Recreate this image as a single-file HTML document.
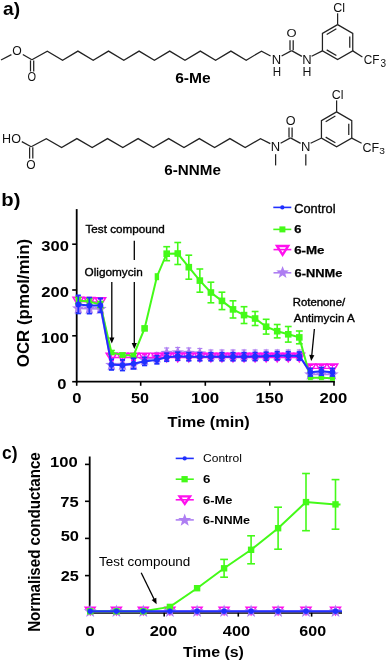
<!DOCTYPE html>
<html><head><meta charset="utf-8"><title>Figure</title>
<style>html,body{margin:0;padding:0;background:#fff;} body{width:387px;height:662px;overflow:hidden;} svg{display:block;}</style>
</head><body>
<svg width="387" height="662" viewBox="0 0 387 662" font-family="'Liberation Sans', Arial, Helvetica, sans-serif"><line x1="1.00" y1="60.00" x2="11.40" y2="54.60" stroke="#222" stroke-width="1.25"/>
<line x1="22.80" y1="54.50" x2="31.90" y2="59.80" stroke="#222" stroke-width="1.25"/>
<line x1="30.50" y1="60.40" x2="30.50" y2="71.50" stroke="#222" stroke-width="1.25"/>
<line x1="33.70" y1="60.40" x2="33.70" y2="71.50" stroke="#222" stroke-width="1.25"/>
<polyline points="31.90,59.80 47.30,51.10 62.60,60.20 77.90,51.10 93.20,60.20 108.50,51.10 123.80,60.20 139.10,51.10 154.40,60.20 169.70,51.10 185.00,60.20 200.30,51.10 215.60,60.20 230.90,51.10 246.20,60.20 261.50,51.10 270.60,56.00" fill="none" stroke="#222" stroke-width="1.25" stroke-linejoin="miter"/>
<line x1="281.60" y1="56.00" x2="291.60" y2="50.60" stroke="#222" stroke-width="1.25"/>
<line x1="290.00" y1="40.30" x2="290.00" y2="50.30" stroke="#222" stroke-width="1.25"/>
<line x1="293.20" y1="40.30" x2="293.20" y2="50.30" stroke="#222" stroke-width="1.25"/>
<line x1="291.60" y1="50.60" x2="301.90" y2="56.40" stroke="#222" stroke-width="1.25"/>
<line x1="311.60" y1="56.20" x2="322.40" y2="50.90" stroke="#222" stroke-width="1.25"/>
<polyline points="337.60,24.65 322.44,33.40 322.44,50.90 337.60,59.65 352.76,50.90 352.76,33.40 337.60,24.65" fill="none" stroke="#222" stroke-width="1.25" stroke-linejoin="miter"/>
<line x1="336.37" y1="28.82" x2="326.67" y2="34.42" stroke="#222" stroke-width="1.25"/>
<line x1="349.76" y1="47.75" x2="349.76" y2="36.55" stroke="#222" stroke-width="1.25"/>
<line x1="326.67" y1="49.88" x2="336.37" y2="55.48" stroke="#222" stroke-width="1.25"/>
<line x1="337.60" y1="24.65" x2="337.60" y2="13.30" stroke="#222" stroke-width="1.25"/>
<line x1="352.76" y1="50.90" x2="362.40" y2="57.00" stroke="#222" stroke-width="1.25"/>
<line x1="21.80" y1="141.60" x2="31.20" y2="146.80" stroke="#222" stroke-width="1.25"/>
<line x1="29.60" y1="147.30" x2="29.60" y2="158.60" stroke="#222" stroke-width="1.25"/>
<line x1="32.80" y1="147.30" x2="32.80" y2="158.60" stroke="#222" stroke-width="1.25"/>
<polyline points="31.20,146.80 46.30,138.60 61.60,147.60 76.90,138.60 92.20,147.60 107.50,138.60 122.80,147.60 138.10,138.60 153.40,147.60 168.70,138.60 184.00,147.60 199.30,138.60 214.60,147.60 229.90,138.60 245.20,147.60 260.50,138.60 270.30,143.60" fill="none" stroke="#222" stroke-width="1.25" stroke-linejoin="miter"/>
<line x1="275.60" y1="154.20" x2="275.60" y2="165.40" stroke="#222" stroke-width="1.25"/>
<line x1="280.60" y1="143.20" x2="290.50" y2="137.90" stroke="#222" stroke-width="1.25"/>
<line x1="289.00" y1="127.40" x2="289.00" y2="137.60" stroke="#222" stroke-width="1.25"/>
<line x1="292.10" y1="127.40" x2="292.10" y2="137.60" stroke="#222" stroke-width="1.25"/>
<line x1="290.50" y1="137.90" x2="300.60" y2="143.40" stroke="#222" stroke-width="1.25"/>
<line x1="305.80" y1="154.20" x2="305.80" y2="165.40" stroke="#222" stroke-width="1.25"/>
<line x1="310.60" y1="143.20" x2="321.10" y2="138.30" stroke="#222" stroke-width="1.25"/>
<polyline points="336.60,111.90 321.44,120.65 321.44,138.15 336.60,146.90 351.76,138.15 351.76,120.65 336.60,111.90" fill="none" stroke="#222" stroke-width="1.25" stroke-linejoin="miter"/>
<line x1="335.37" y1="116.07" x2="325.67" y2="121.67" stroke="#222" stroke-width="1.25"/>
<line x1="348.76" y1="135.00" x2="348.76" y2="123.80" stroke="#222" stroke-width="1.25"/>
<line x1="325.67" y1="137.13" x2="335.37" y2="142.73" stroke="#222" stroke-width="1.25"/>
<line x1="336.60" y1="111.90" x2="336.60" y2="100.40" stroke="#222" stroke-width="1.25"/>
<line x1="351.76" y1="138.15" x2="361.60" y2="143.30" stroke="#222" stroke-width="1.25"/>
<text x="3.03" y="14.67" font-size="18.72" font-weight="bold" fill="#000" textLength="17.02" lengthAdjust="spacingAndGlyphs">a)</text>
<text x="12.19" y="55.37" font-size="12.54" font-weight="normal" fill="#111" textLength="9.5" lengthAdjust="spacingAndGlyphs">O</text>
<text x="27.55" y="81.38" font-size="11.97" font-weight="normal" fill="#111" textLength="8.58" lengthAdjust="spacingAndGlyphs">O</text>
<text x="271.86" y="64.0" font-size="12.03" font-weight="normal" fill="#111" textLength="9.41" lengthAdjust="spacingAndGlyphs">N</text>
<text x="272.67" y="76.2" font-size="12.46" font-weight="normal" fill="#111" textLength="8.38" lengthAdjust="spacingAndGlyphs">H</text>
<text x="302.16" y="64.0" font-size="12.03" font-weight="normal" fill="#111" textLength="9.41" lengthAdjust="spacingAndGlyphs">N</text>
<text x="302.51" y="76.2" font-size="12.46" font-weight="normal" fill="#111" textLength="8.9" lengthAdjust="spacingAndGlyphs">H</text>
<text x="286.55" y="37.29" font-size="11.27" font-weight="normal" fill="#111" textLength="10.07" lengthAdjust="spacingAndGlyphs">O</text>
<text x="333.27" y="11.67" font-size="12.57" font-weight="normal" fill="#111" textLength="11.83" lengthAdjust="spacingAndGlyphs">Cl</text>
<text x="363.71" y="63.77" font-size="12.54" font-weight="normal" fill="#111" textLength="15.8" lengthAdjust="spacingAndGlyphs">CF</text>
<text x="380.5" y="67.1" font-size="10.14" font-weight="normal" fill="#111" textLength="5.56" lengthAdjust="spacingAndGlyphs">3</text>
<text x="175.18" y="82.85" font-size="14.65" font-weight="bold" fill="#000" textLength="35.52" lengthAdjust="spacingAndGlyphs">6-Me</text>
<text x="2.1" y="142.58" font-size="12.39" font-weight="normal" fill="#111" textLength="18.83" lengthAdjust="spacingAndGlyphs">HO</text>
<text x="26.3" y="169.07" font-size="12.68" font-weight="normal" fill="#111" textLength="9.38" lengthAdjust="spacingAndGlyphs">O</text>
<text x="270.76" y="151.4" font-size="11.88" font-weight="normal" fill="#111" textLength="9.41" lengthAdjust="spacingAndGlyphs">N</text>
<text x="301.06" y="151.4" font-size="11.88" font-weight="normal" fill="#111" textLength="9.41" lengthAdjust="spacingAndGlyphs">N</text>
<text x="285.67" y="125.27" font-size="12.54" font-weight="normal" fill="#111" textLength="9.84" lengthAdjust="spacingAndGlyphs">O</text>
<text x="331.88" y="98.58" font-size="12.03" font-weight="normal" fill="#111" textLength="11.72" lengthAdjust="spacingAndGlyphs">Cl</text>
<text x="362.38" y="151.87" font-size="13.38" font-weight="normal" fill="#111" textLength="16.66" lengthAdjust="spacingAndGlyphs">CF</text>
<text x="379.39" y="154.41" font-size="8.87" font-weight="normal" fill="#111" textLength="5.68" lengthAdjust="spacingAndGlyphs">3</text>
<text x="164.29" y="175.16" font-size="14.08" font-weight="bold" fill="#000" textLength="56.6" lengthAdjust="spacingAndGlyphs">6-NNMe</text>
<line x1="76.70" y1="209.10" x2="76.70" y2="382.50" stroke="#000" stroke-width="1.8"/>
<line x1="75.80" y1="381.70" x2="334.90" y2="381.70" stroke="#000" stroke-width="1.8"/>
<line x1="72.20" y1="244.20" x2="76.70" y2="244.20" stroke="#000" stroke-width="1.6"/>
<line x1="72.20" y1="290.00" x2="76.70" y2="290.00" stroke="#000" stroke-width="1.6"/>
<line x1="72.20" y1="335.80" x2="76.70" y2="335.80" stroke="#000" stroke-width="1.6"/>
<line x1="72.20" y1="381.70" x2="76.70" y2="381.70" stroke="#000" stroke-width="1.6"/>
<line x1="76.70" y1="381.70" x2="76.70" y2="385.80" stroke="#000" stroke-width="1.6"/>
<line x1="140.70" y1="381.70" x2="140.70" y2="385.80" stroke="#000" stroke-width="1.6"/>
<line x1="205.30" y1="381.70" x2="205.30" y2="385.80" stroke="#000" stroke-width="1.6"/>
<line x1="269.80" y1="381.70" x2="269.80" y2="385.80" stroke="#000" stroke-width="1.6"/>
<line x1="334.00" y1="381.70" x2="334.00" y2="385.80" stroke="#000" stroke-width="1.6"/>
<polyline points="78.30,308.50 89.35,308.70 100.40,309.00 111.45,365.00 122.50,365.00 133.55,365.00 144.60,360.00 156.90,357.50 166.70,353.00 177.75,352.50 188.80,353.00 199.85,353.50 210.90,355.00 221.95,355.00 233.00,355.00 244.05,355.00 255.10,355.00 266.15,355.00 277.20,355.00 288.25,355.00 299.30,355.00 310.35,374.50 321.40,374.50 332.45,374.50" fill="none" stroke="#ae7ef2" stroke-width="1.4"/>
<line x1="78.30" y1="305.50" x2="78.30" y2="311.50" stroke="#ae7ef2" stroke-width="1.2"/>
<line x1="75.80" y1="305.50" x2="80.80" y2="305.50" stroke="#ae7ef2" stroke-width="1.2"/>
<line x1="75.80" y1="311.50" x2="80.80" y2="311.50" stroke="#ae7ef2" stroke-width="1.2"/>
<polygon points="78.30,301.90 79.93,306.26 84.58,306.46 80.94,309.36 82.18,313.84 78.30,311.27 74.42,313.84 75.66,309.36 72.02,306.46 76.67,306.26" fill="#ae7ef2"/>
<line x1="89.35" y1="305.70" x2="89.35" y2="311.70" stroke="#ae7ef2" stroke-width="1.2"/>
<line x1="86.85" y1="305.70" x2="91.85" y2="305.70" stroke="#ae7ef2" stroke-width="1.2"/>
<line x1="86.85" y1="311.70" x2="91.85" y2="311.70" stroke="#ae7ef2" stroke-width="1.2"/>
<polygon points="89.35,302.10 90.98,306.46 95.63,306.66 91.99,309.56 93.23,314.04 89.35,311.47 85.47,314.04 86.71,309.56 83.07,306.66 87.72,306.46" fill="#ae7ef2"/>
<line x1="100.40" y1="306.00" x2="100.40" y2="312.00" stroke="#ae7ef2" stroke-width="1.2"/>
<line x1="97.90" y1="306.00" x2="102.90" y2="306.00" stroke="#ae7ef2" stroke-width="1.2"/>
<line x1="97.90" y1="312.00" x2="102.90" y2="312.00" stroke="#ae7ef2" stroke-width="1.2"/>
<polygon points="100.40,302.40 102.03,306.76 106.68,306.96 103.04,309.86 104.28,314.34 100.40,311.77 96.52,314.34 97.76,309.86 94.12,306.96 98.77,306.76" fill="#ae7ef2"/>
<line x1="111.45" y1="362.00" x2="111.45" y2="368.00" stroke="#ae7ef2" stroke-width="1.2"/>
<line x1="108.95" y1="362.00" x2="113.95" y2="362.00" stroke="#ae7ef2" stroke-width="1.2"/>
<line x1="108.95" y1="368.00" x2="113.95" y2="368.00" stroke="#ae7ef2" stroke-width="1.2"/>
<polygon points="111.45,358.40 113.08,362.76 117.73,362.96 114.09,365.86 115.33,370.34 111.45,367.77 107.57,370.34 108.81,365.86 105.17,362.96 109.82,362.76" fill="#ae7ef2"/>
<line x1="122.50" y1="362.00" x2="122.50" y2="368.00" stroke="#ae7ef2" stroke-width="1.2"/>
<line x1="120.00" y1="362.00" x2="125.00" y2="362.00" stroke="#ae7ef2" stroke-width="1.2"/>
<line x1="120.00" y1="368.00" x2="125.00" y2="368.00" stroke="#ae7ef2" stroke-width="1.2"/>
<polygon points="122.50,358.40 124.13,362.76 128.78,362.96 125.14,365.86 126.38,370.34 122.50,367.77 118.62,370.34 119.86,365.86 116.22,362.96 120.87,362.76" fill="#ae7ef2"/>
<line x1="133.55" y1="362.00" x2="133.55" y2="368.00" stroke="#ae7ef2" stroke-width="1.2"/>
<line x1="131.05" y1="362.00" x2="136.05" y2="362.00" stroke="#ae7ef2" stroke-width="1.2"/>
<line x1="131.05" y1="368.00" x2="136.05" y2="368.00" stroke="#ae7ef2" stroke-width="1.2"/>
<polygon points="133.55,358.40 135.18,362.76 139.83,362.96 136.19,365.86 137.43,370.34 133.55,367.77 129.67,370.34 130.91,365.86 127.27,362.96 131.92,362.76" fill="#ae7ef2"/>
<line x1="144.60" y1="355.00" x2="144.60" y2="365.00" stroke="#ae7ef2" stroke-width="1.2"/>
<line x1="142.10" y1="355.00" x2="147.10" y2="355.00" stroke="#ae7ef2" stroke-width="1.2"/>
<line x1="142.10" y1="365.00" x2="147.10" y2="365.00" stroke="#ae7ef2" stroke-width="1.2"/>
<polygon points="144.60,353.40 146.23,357.76 150.88,357.96 147.24,360.86 148.48,365.34 144.60,362.77 140.72,365.34 141.96,360.86 138.32,357.96 142.97,357.76" fill="#ae7ef2"/>
<line x1="156.90" y1="352.50" x2="156.90" y2="362.50" stroke="#ae7ef2" stroke-width="1.2"/>
<line x1="154.40" y1="352.50" x2="159.40" y2="352.50" stroke="#ae7ef2" stroke-width="1.2"/>
<line x1="154.40" y1="362.50" x2="159.40" y2="362.50" stroke="#ae7ef2" stroke-width="1.2"/>
<polygon points="156.90,350.90 158.53,355.26 163.18,355.46 159.54,358.36 160.78,362.84 156.90,360.27 153.02,362.84 154.26,358.36 150.62,355.46 155.27,355.26" fill="#ae7ef2"/>
<line x1="166.70" y1="348.00" x2="166.70" y2="358.00" stroke="#ae7ef2" stroke-width="1.2"/>
<line x1="164.20" y1="348.00" x2="169.20" y2="348.00" stroke="#ae7ef2" stroke-width="1.2"/>
<line x1="164.20" y1="358.00" x2="169.20" y2="358.00" stroke="#ae7ef2" stroke-width="1.2"/>
<polygon points="166.70,346.40 168.33,350.76 172.98,350.96 169.34,353.86 170.58,358.34 166.70,355.77 162.82,358.34 164.06,353.86 160.42,350.96 165.07,350.76" fill="#ae7ef2"/>
<line x1="177.75" y1="347.50" x2="177.75" y2="357.50" stroke="#ae7ef2" stroke-width="1.2"/>
<line x1="175.25" y1="347.50" x2="180.25" y2="347.50" stroke="#ae7ef2" stroke-width="1.2"/>
<line x1="175.25" y1="357.50" x2="180.25" y2="357.50" stroke="#ae7ef2" stroke-width="1.2"/>
<polygon points="177.75,345.90 179.38,350.26 184.03,350.46 180.39,353.36 181.63,357.84 177.75,355.27 173.87,357.84 175.11,353.36 171.47,350.46 176.12,350.26" fill="#ae7ef2"/>
<line x1="188.80" y1="348.00" x2="188.80" y2="358.00" stroke="#ae7ef2" stroke-width="1.2"/>
<line x1="186.30" y1="348.00" x2="191.30" y2="348.00" stroke="#ae7ef2" stroke-width="1.2"/>
<line x1="186.30" y1="358.00" x2="191.30" y2="358.00" stroke="#ae7ef2" stroke-width="1.2"/>
<polygon points="188.80,346.40 190.43,350.76 195.08,350.96 191.44,353.86 192.68,358.34 188.80,355.77 184.92,358.34 186.16,353.86 182.52,350.96 187.17,350.76" fill="#ae7ef2"/>
<line x1="199.85" y1="348.50" x2="199.85" y2="358.50" stroke="#ae7ef2" stroke-width="1.2"/>
<line x1="197.35" y1="348.50" x2="202.35" y2="348.50" stroke="#ae7ef2" stroke-width="1.2"/>
<line x1="197.35" y1="358.50" x2="202.35" y2="358.50" stroke="#ae7ef2" stroke-width="1.2"/>
<polygon points="199.85,346.90 201.48,351.26 206.13,351.46 202.49,354.36 203.73,358.84 199.85,356.27 195.97,358.84 197.21,354.36 193.57,351.46 198.22,351.26" fill="#ae7ef2"/>
<line x1="210.90" y1="350.00" x2="210.90" y2="360.00" stroke="#ae7ef2" stroke-width="1.2"/>
<line x1="208.40" y1="350.00" x2="213.40" y2="350.00" stroke="#ae7ef2" stroke-width="1.2"/>
<line x1="208.40" y1="360.00" x2="213.40" y2="360.00" stroke="#ae7ef2" stroke-width="1.2"/>
<polygon points="210.90,348.40 212.53,352.76 217.18,352.96 213.54,355.86 214.78,360.34 210.90,357.77 207.02,360.34 208.26,355.86 204.62,352.96 209.27,352.76" fill="#ae7ef2"/>
<line x1="221.95" y1="350.00" x2="221.95" y2="360.00" stroke="#ae7ef2" stroke-width="1.2"/>
<line x1="219.45" y1="350.00" x2="224.45" y2="350.00" stroke="#ae7ef2" stroke-width="1.2"/>
<line x1="219.45" y1="360.00" x2="224.45" y2="360.00" stroke="#ae7ef2" stroke-width="1.2"/>
<polygon points="221.95,348.40 223.58,352.76 228.23,352.96 224.59,355.86 225.83,360.34 221.95,357.77 218.07,360.34 219.31,355.86 215.67,352.96 220.32,352.76" fill="#ae7ef2"/>
<line x1="233.00" y1="350.00" x2="233.00" y2="360.00" stroke="#ae7ef2" stroke-width="1.2"/>
<line x1="230.50" y1="350.00" x2="235.50" y2="350.00" stroke="#ae7ef2" stroke-width="1.2"/>
<line x1="230.50" y1="360.00" x2="235.50" y2="360.00" stroke="#ae7ef2" stroke-width="1.2"/>
<polygon points="233.00,348.40 234.63,352.76 239.28,352.96 235.64,355.86 236.88,360.34 233.00,357.77 229.12,360.34 230.36,355.86 226.72,352.96 231.37,352.76" fill="#ae7ef2"/>
<line x1="244.05" y1="350.00" x2="244.05" y2="360.00" stroke="#ae7ef2" stroke-width="1.2"/>
<line x1="241.55" y1="350.00" x2="246.55" y2="350.00" stroke="#ae7ef2" stroke-width="1.2"/>
<line x1="241.55" y1="360.00" x2="246.55" y2="360.00" stroke="#ae7ef2" stroke-width="1.2"/>
<polygon points="244.05,348.40 245.68,352.76 250.33,352.96 246.69,355.86 247.93,360.34 244.05,357.77 240.17,360.34 241.41,355.86 237.77,352.96 242.42,352.76" fill="#ae7ef2"/>
<line x1="255.10" y1="350.00" x2="255.10" y2="360.00" stroke="#ae7ef2" stroke-width="1.2"/>
<line x1="252.60" y1="350.00" x2="257.60" y2="350.00" stroke="#ae7ef2" stroke-width="1.2"/>
<line x1="252.60" y1="360.00" x2="257.60" y2="360.00" stroke="#ae7ef2" stroke-width="1.2"/>
<polygon points="255.10,348.40 256.73,352.76 261.38,352.96 257.74,355.86 258.98,360.34 255.10,357.77 251.22,360.34 252.46,355.86 248.82,352.96 253.47,352.76" fill="#ae7ef2"/>
<line x1="266.15" y1="350.00" x2="266.15" y2="360.00" stroke="#ae7ef2" stroke-width="1.2"/>
<line x1="263.65" y1="350.00" x2="268.65" y2="350.00" stroke="#ae7ef2" stroke-width="1.2"/>
<line x1="263.65" y1="360.00" x2="268.65" y2="360.00" stroke="#ae7ef2" stroke-width="1.2"/>
<polygon points="266.15,348.40 267.78,352.76 272.43,352.96 268.79,355.86 270.03,360.34 266.15,357.77 262.27,360.34 263.51,355.86 259.87,352.96 264.52,352.76" fill="#ae7ef2"/>
<line x1="277.20" y1="350.00" x2="277.20" y2="360.00" stroke="#ae7ef2" stroke-width="1.2"/>
<line x1="274.70" y1="350.00" x2="279.70" y2="350.00" stroke="#ae7ef2" stroke-width="1.2"/>
<line x1="274.70" y1="360.00" x2="279.70" y2="360.00" stroke="#ae7ef2" stroke-width="1.2"/>
<polygon points="277.20,348.40 278.83,352.76 283.48,352.96 279.84,355.86 281.08,360.34 277.20,357.77 273.32,360.34 274.56,355.86 270.92,352.96 275.57,352.76" fill="#ae7ef2"/>
<line x1="288.25" y1="350.00" x2="288.25" y2="360.00" stroke="#ae7ef2" stroke-width="1.2"/>
<line x1="285.75" y1="350.00" x2="290.75" y2="350.00" stroke="#ae7ef2" stroke-width="1.2"/>
<line x1="285.75" y1="360.00" x2="290.75" y2="360.00" stroke="#ae7ef2" stroke-width="1.2"/>
<polygon points="288.25,348.40 289.88,352.76 294.53,352.96 290.89,355.86 292.13,360.34 288.25,357.77 284.37,360.34 285.61,355.86 281.97,352.96 286.62,352.76" fill="#ae7ef2"/>
<line x1="299.30" y1="350.00" x2="299.30" y2="360.00" stroke="#ae7ef2" stroke-width="1.2"/>
<line x1="296.80" y1="350.00" x2="301.80" y2="350.00" stroke="#ae7ef2" stroke-width="1.2"/>
<line x1="296.80" y1="360.00" x2="301.80" y2="360.00" stroke="#ae7ef2" stroke-width="1.2"/>
<polygon points="299.30,348.40 300.93,352.76 305.58,352.96 301.94,355.86 303.18,360.34 299.30,357.77 295.42,360.34 296.66,355.86 293.02,352.96 297.67,352.76" fill="#ae7ef2"/>
<line x1="310.35" y1="372.50" x2="310.35" y2="376.50" stroke="#ae7ef2" stroke-width="1.2"/>
<line x1="307.85" y1="372.50" x2="312.85" y2="372.50" stroke="#ae7ef2" stroke-width="1.2"/>
<line x1="307.85" y1="376.50" x2="312.85" y2="376.50" stroke="#ae7ef2" stroke-width="1.2"/>
<polygon points="310.35,367.90 311.98,372.26 316.63,372.46 312.99,375.36 314.23,379.84 310.35,377.27 306.47,379.84 307.71,375.36 304.07,372.46 308.72,372.26" fill="#ae7ef2"/>
<line x1="321.40" y1="372.50" x2="321.40" y2="376.50" stroke="#ae7ef2" stroke-width="1.2"/>
<line x1="318.90" y1="372.50" x2="323.90" y2="372.50" stroke="#ae7ef2" stroke-width="1.2"/>
<line x1="318.90" y1="376.50" x2="323.90" y2="376.50" stroke="#ae7ef2" stroke-width="1.2"/>
<polygon points="321.40,367.90 323.03,372.26 327.68,372.46 324.04,375.36 325.28,379.84 321.40,377.27 317.52,379.84 318.76,375.36 315.12,372.46 319.77,372.26" fill="#ae7ef2"/>
<line x1="332.45" y1="372.50" x2="332.45" y2="376.50" stroke="#ae7ef2" stroke-width="1.2"/>
<line x1="329.95" y1="372.50" x2="334.95" y2="372.50" stroke="#ae7ef2" stroke-width="1.2"/>
<line x1="329.95" y1="376.50" x2="334.95" y2="376.50" stroke="#ae7ef2" stroke-width="1.2"/>
<polygon points="332.45,367.90 334.08,372.26 338.73,372.46 335.09,375.36 336.33,379.84 332.45,377.27 328.57,379.84 329.81,375.36 326.17,372.46 330.82,372.26" fill="#ae7ef2"/>
<polyline points="78.30,301.60 89.35,301.80 100.40,302.20 111.45,357.50 122.50,357.50 133.55,357.50 144.60,357.50 156.90,357.50 166.70,357.50 177.75,357.50 188.80,357.50 199.85,357.50 210.90,357.50 221.95,357.50 233.00,357.50 244.05,357.50 255.10,357.50 266.15,357.50 277.20,357.50 288.25,357.50 299.30,357.50 310.35,368.40 321.40,368.40 332.45,368.40" fill="none" stroke="#ff10ee" stroke-width="1.4"/>
<line x1="78.30" y1="298.60" x2="78.30" y2="304.60" stroke="#ff10ee" stroke-width="1.2"/>
<line x1="75.80" y1="298.60" x2="80.80" y2="298.60" stroke="#ff10ee" stroke-width="1.2"/>
<line x1="75.80" y1="304.60" x2="80.80" y2="304.60" stroke="#ff10ee" stroke-width="1.2"/>
<polygon points="73.10,297.30 83.50,297.30 78.30,305.90" fill="none" stroke="#ff10ee" stroke-width="1.6" stroke-linejoin="miter"/>
<line x1="89.35" y1="298.80" x2="89.35" y2="304.80" stroke="#ff10ee" stroke-width="1.2"/>
<line x1="86.85" y1="298.80" x2="91.85" y2="298.80" stroke="#ff10ee" stroke-width="1.2"/>
<line x1="86.85" y1="304.80" x2="91.85" y2="304.80" stroke="#ff10ee" stroke-width="1.2"/>
<polygon points="84.15,297.50 94.55,297.50 89.35,306.10" fill="none" stroke="#ff10ee" stroke-width="1.6" stroke-linejoin="miter"/>
<line x1="100.40" y1="299.20" x2="100.40" y2="305.20" stroke="#ff10ee" stroke-width="1.2"/>
<line x1="97.90" y1="299.20" x2="102.90" y2="299.20" stroke="#ff10ee" stroke-width="1.2"/>
<line x1="97.90" y1="305.20" x2="102.90" y2="305.20" stroke="#ff10ee" stroke-width="1.2"/>
<polygon points="95.20,297.90 105.60,297.90 100.40,306.50" fill="none" stroke="#ff10ee" stroke-width="1.6" stroke-linejoin="miter"/>
<line x1="111.45" y1="354.50" x2="111.45" y2="360.50" stroke="#ff10ee" stroke-width="1.2"/>
<line x1="108.95" y1="354.50" x2="113.95" y2="354.50" stroke="#ff10ee" stroke-width="1.2"/>
<line x1="108.95" y1="360.50" x2="113.95" y2="360.50" stroke="#ff10ee" stroke-width="1.2"/>
<polygon points="106.25,353.20 116.65,353.20 111.45,361.80" fill="none" stroke="#ff10ee" stroke-width="1.6" stroke-linejoin="miter"/>
<line x1="122.50" y1="354.50" x2="122.50" y2="360.50" stroke="#ff10ee" stroke-width="1.2"/>
<line x1="120.00" y1="354.50" x2="125.00" y2="354.50" stroke="#ff10ee" stroke-width="1.2"/>
<line x1="120.00" y1="360.50" x2="125.00" y2="360.50" stroke="#ff10ee" stroke-width="1.2"/>
<polygon points="117.30,353.20 127.70,353.20 122.50,361.80" fill="none" stroke="#ff10ee" stroke-width="1.6" stroke-linejoin="miter"/>
<line x1="133.55" y1="354.50" x2="133.55" y2="360.50" stroke="#ff10ee" stroke-width="1.2"/>
<line x1="131.05" y1="354.50" x2="136.05" y2="354.50" stroke="#ff10ee" stroke-width="1.2"/>
<line x1="131.05" y1="360.50" x2="136.05" y2="360.50" stroke="#ff10ee" stroke-width="1.2"/>
<polygon points="128.35,353.20 138.75,353.20 133.55,361.80" fill="none" stroke="#ff10ee" stroke-width="1.6" stroke-linejoin="miter"/>
<line x1="144.60" y1="354.50" x2="144.60" y2="360.50" stroke="#ff10ee" stroke-width="1.2"/>
<line x1="142.10" y1="354.50" x2="147.10" y2="354.50" stroke="#ff10ee" stroke-width="1.2"/>
<line x1="142.10" y1="360.50" x2="147.10" y2="360.50" stroke="#ff10ee" stroke-width="1.2"/>
<polygon points="139.40,353.20 149.80,353.20 144.60,361.80" fill="none" stroke="#ff10ee" stroke-width="1.6" stroke-linejoin="miter"/>
<line x1="156.90" y1="354.50" x2="156.90" y2="360.50" stroke="#ff10ee" stroke-width="1.2"/>
<line x1="154.40" y1="354.50" x2="159.40" y2="354.50" stroke="#ff10ee" stroke-width="1.2"/>
<line x1="154.40" y1="360.50" x2="159.40" y2="360.50" stroke="#ff10ee" stroke-width="1.2"/>
<polygon points="151.70,353.20 162.10,353.20 156.90,361.80" fill="none" stroke="#ff10ee" stroke-width="1.6" stroke-linejoin="miter"/>
<line x1="166.70" y1="354.50" x2="166.70" y2="360.50" stroke="#ff10ee" stroke-width="1.2"/>
<line x1="164.20" y1="354.50" x2="169.20" y2="354.50" stroke="#ff10ee" stroke-width="1.2"/>
<line x1="164.20" y1="360.50" x2="169.20" y2="360.50" stroke="#ff10ee" stroke-width="1.2"/>
<polygon points="161.50,353.20 171.90,353.20 166.70,361.80" fill="none" stroke="#ff10ee" stroke-width="1.6" stroke-linejoin="miter"/>
<line x1="177.75" y1="354.50" x2="177.75" y2="360.50" stroke="#ff10ee" stroke-width="1.2"/>
<line x1="175.25" y1="354.50" x2="180.25" y2="354.50" stroke="#ff10ee" stroke-width="1.2"/>
<line x1="175.25" y1="360.50" x2="180.25" y2="360.50" stroke="#ff10ee" stroke-width="1.2"/>
<polygon points="172.55,353.20 182.95,353.20 177.75,361.80" fill="none" stroke="#ff10ee" stroke-width="1.6" stroke-linejoin="miter"/>
<line x1="188.80" y1="354.50" x2="188.80" y2="360.50" stroke="#ff10ee" stroke-width="1.2"/>
<line x1="186.30" y1="354.50" x2="191.30" y2="354.50" stroke="#ff10ee" stroke-width="1.2"/>
<line x1="186.30" y1="360.50" x2="191.30" y2="360.50" stroke="#ff10ee" stroke-width="1.2"/>
<polygon points="183.60,353.20 194.00,353.20 188.80,361.80" fill="none" stroke="#ff10ee" stroke-width="1.6" stroke-linejoin="miter"/>
<line x1="199.85" y1="354.50" x2="199.85" y2="360.50" stroke="#ff10ee" stroke-width="1.2"/>
<line x1="197.35" y1="354.50" x2="202.35" y2="354.50" stroke="#ff10ee" stroke-width="1.2"/>
<line x1="197.35" y1="360.50" x2="202.35" y2="360.50" stroke="#ff10ee" stroke-width="1.2"/>
<polygon points="194.65,353.20 205.05,353.20 199.85,361.80" fill="none" stroke="#ff10ee" stroke-width="1.6" stroke-linejoin="miter"/>
<line x1="210.90" y1="354.50" x2="210.90" y2="360.50" stroke="#ff10ee" stroke-width="1.2"/>
<line x1="208.40" y1="354.50" x2="213.40" y2="354.50" stroke="#ff10ee" stroke-width="1.2"/>
<line x1="208.40" y1="360.50" x2="213.40" y2="360.50" stroke="#ff10ee" stroke-width="1.2"/>
<polygon points="205.70,353.20 216.10,353.20 210.90,361.80" fill="none" stroke="#ff10ee" stroke-width="1.6" stroke-linejoin="miter"/>
<line x1="221.95" y1="354.50" x2="221.95" y2="360.50" stroke="#ff10ee" stroke-width="1.2"/>
<line x1="219.45" y1="354.50" x2="224.45" y2="354.50" stroke="#ff10ee" stroke-width="1.2"/>
<line x1="219.45" y1="360.50" x2="224.45" y2="360.50" stroke="#ff10ee" stroke-width="1.2"/>
<polygon points="216.75,353.20 227.15,353.20 221.95,361.80" fill="none" stroke="#ff10ee" stroke-width="1.6" stroke-linejoin="miter"/>
<line x1="233.00" y1="354.50" x2="233.00" y2="360.50" stroke="#ff10ee" stroke-width="1.2"/>
<line x1="230.50" y1="354.50" x2="235.50" y2="354.50" stroke="#ff10ee" stroke-width="1.2"/>
<line x1="230.50" y1="360.50" x2="235.50" y2="360.50" stroke="#ff10ee" stroke-width="1.2"/>
<polygon points="227.80,353.20 238.20,353.20 233.00,361.80" fill="none" stroke="#ff10ee" stroke-width="1.6" stroke-linejoin="miter"/>
<line x1="244.05" y1="354.50" x2="244.05" y2="360.50" stroke="#ff10ee" stroke-width="1.2"/>
<line x1="241.55" y1="354.50" x2="246.55" y2="354.50" stroke="#ff10ee" stroke-width="1.2"/>
<line x1="241.55" y1="360.50" x2="246.55" y2="360.50" stroke="#ff10ee" stroke-width="1.2"/>
<polygon points="238.85,353.20 249.25,353.20 244.05,361.80" fill="none" stroke="#ff10ee" stroke-width="1.6" stroke-linejoin="miter"/>
<line x1="255.10" y1="354.50" x2="255.10" y2="360.50" stroke="#ff10ee" stroke-width="1.2"/>
<line x1="252.60" y1="354.50" x2="257.60" y2="354.50" stroke="#ff10ee" stroke-width="1.2"/>
<line x1="252.60" y1="360.50" x2="257.60" y2="360.50" stroke="#ff10ee" stroke-width="1.2"/>
<polygon points="249.90,353.20 260.30,353.20 255.10,361.80" fill="none" stroke="#ff10ee" stroke-width="1.6" stroke-linejoin="miter"/>
<line x1="266.15" y1="354.50" x2="266.15" y2="360.50" stroke="#ff10ee" stroke-width="1.2"/>
<line x1="263.65" y1="354.50" x2="268.65" y2="354.50" stroke="#ff10ee" stroke-width="1.2"/>
<line x1="263.65" y1="360.50" x2="268.65" y2="360.50" stroke="#ff10ee" stroke-width="1.2"/>
<polygon points="260.95,353.20 271.35,353.20 266.15,361.80" fill="none" stroke="#ff10ee" stroke-width="1.6" stroke-linejoin="miter"/>
<line x1="277.20" y1="354.50" x2="277.20" y2="360.50" stroke="#ff10ee" stroke-width="1.2"/>
<line x1="274.70" y1="354.50" x2="279.70" y2="354.50" stroke="#ff10ee" stroke-width="1.2"/>
<line x1="274.70" y1="360.50" x2="279.70" y2="360.50" stroke="#ff10ee" stroke-width="1.2"/>
<polygon points="272.00,353.20 282.40,353.20 277.20,361.80" fill="none" stroke="#ff10ee" stroke-width="1.6" stroke-linejoin="miter"/>
<line x1="288.25" y1="354.50" x2="288.25" y2="360.50" stroke="#ff10ee" stroke-width="1.2"/>
<line x1="285.75" y1="354.50" x2="290.75" y2="354.50" stroke="#ff10ee" stroke-width="1.2"/>
<line x1="285.75" y1="360.50" x2="290.75" y2="360.50" stroke="#ff10ee" stroke-width="1.2"/>
<polygon points="283.05,353.20 293.45,353.20 288.25,361.80" fill="none" stroke="#ff10ee" stroke-width="1.6" stroke-linejoin="miter"/>
<line x1="299.30" y1="354.50" x2="299.30" y2="360.50" stroke="#ff10ee" stroke-width="1.2"/>
<line x1="296.80" y1="354.50" x2="301.80" y2="354.50" stroke="#ff10ee" stroke-width="1.2"/>
<line x1="296.80" y1="360.50" x2="301.80" y2="360.50" stroke="#ff10ee" stroke-width="1.2"/>
<polygon points="294.10,353.20 304.50,353.20 299.30,361.80" fill="none" stroke="#ff10ee" stroke-width="1.6" stroke-linejoin="miter"/>
<line x1="310.35" y1="365.40" x2="310.35" y2="371.40" stroke="#ff10ee" stroke-width="1.2"/>
<line x1="307.85" y1="365.40" x2="312.85" y2="365.40" stroke="#ff10ee" stroke-width="1.2"/>
<line x1="307.85" y1="371.40" x2="312.85" y2="371.40" stroke="#ff10ee" stroke-width="1.2"/>
<polygon points="305.15,364.10 315.55,364.10 310.35,372.70" fill="none" stroke="#ff10ee" stroke-width="1.6" stroke-linejoin="miter"/>
<line x1="321.40" y1="365.40" x2="321.40" y2="371.40" stroke="#ff10ee" stroke-width="1.2"/>
<line x1="318.90" y1="365.40" x2="323.90" y2="365.40" stroke="#ff10ee" stroke-width="1.2"/>
<line x1="318.90" y1="371.40" x2="323.90" y2="371.40" stroke="#ff10ee" stroke-width="1.2"/>
<polygon points="316.20,364.10 326.60,364.10 321.40,372.70" fill="none" stroke="#ff10ee" stroke-width="1.6" stroke-linejoin="miter"/>
<line x1="332.45" y1="365.40" x2="332.45" y2="371.40" stroke="#ff10ee" stroke-width="1.2"/>
<line x1="329.95" y1="365.40" x2="334.95" y2="365.40" stroke="#ff10ee" stroke-width="1.2"/>
<line x1="329.95" y1="371.40" x2="334.95" y2="371.40" stroke="#ff10ee" stroke-width="1.2"/>
<polygon points="327.25,364.10 337.65,364.10 332.45,372.70" fill="none" stroke="#ff10ee" stroke-width="1.6" stroke-linejoin="miter"/>
<polyline points="78.30,300.50 89.35,301.50 100.40,304.50 111.45,352.50 122.50,355.00 133.55,355.50 144.60,328.40 156.90,276.70 166.70,253.70 177.75,253.50 188.80,267.20 199.85,280.60 210.90,292.50 221.95,300.90 233.00,309.40 244.05,315.10 255.10,318.50 266.15,326.70 277.20,331.20 288.25,334.30 299.30,337.40 310.35,377.70 321.40,377.70 332.45,378.30" fill="none" stroke="#44fa18" stroke-width="2.0"/>
<line x1="78.30" y1="297.50" x2="78.30" y2="303.50" stroke="#44fa18" stroke-width="1.6"/>
<line x1="74.90" y1="297.50" x2="81.70" y2="297.50" stroke="#44fa18" stroke-width="1.6"/>
<line x1="74.90" y1="303.50" x2="81.70" y2="303.50" stroke="#44fa18" stroke-width="1.6"/>
<rect x="75.80" y="298.00" width="5.0" height="5.0" fill="#44fa18"/>
<line x1="89.35" y1="298.50" x2="89.35" y2="304.50" stroke="#44fa18" stroke-width="1.6"/>
<line x1="85.95" y1="298.50" x2="92.75" y2="298.50" stroke="#44fa18" stroke-width="1.6"/>
<line x1="85.95" y1="304.50" x2="92.75" y2="304.50" stroke="#44fa18" stroke-width="1.6"/>
<rect x="86.85" y="299.00" width="5.0" height="5.0" fill="#44fa18"/>
<line x1="100.40" y1="301.50" x2="100.40" y2="307.50" stroke="#44fa18" stroke-width="1.6"/>
<line x1="97.00" y1="301.50" x2="103.80" y2="301.50" stroke="#44fa18" stroke-width="1.6"/>
<line x1="97.00" y1="307.50" x2="103.80" y2="307.50" stroke="#44fa18" stroke-width="1.6"/>
<rect x="97.90" y="302.00" width="5.0" height="5.0" fill="#44fa18"/>
<line x1="111.45" y1="350.50" x2="111.45" y2="354.50" stroke="#44fa18" stroke-width="1.6"/>
<line x1="108.05" y1="350.50" x2="114.85" y2="350.50" stroke="#44fa18" stroke-width="1.6"/>
<line x1="108.05" y1="354.50" x2="114.85" y2="354.50" stroke="#44fa18" stroke-width="1.6"/>
<rect x="108.95" y="350.00" width="5.0" height="5.0" fill="#44fa18"/>
<line x1="122.50" y1="353.00" x2="122.50" y2="357.00" stroke="#44fa18" stroke-width="1.6"/>
<line x1="119.10" y1="353.00" x2="125.90" y2="353.00" stroke="#44fa18" stroke-width="1.6"/>
<line x1="119.10" y1="357.00" x2="125.90" y2="357.00" stroke="#44fa18" stroke-width="1.6"/>
<rect x="120.00" y="352.50" width="5.0" height="5.0" fill="#44fa18"/>
<line x1="133.55" y1="353.50" x2="133.55" y2="357.50" stroke="#44fa18" stroke-width="1.6"/>
<line x1="130.15" y1="353.50" x2="136.95" y2="353.50" stroke="#44fa18" stroke-width="1.6"/>
<line x1="130.15" y1="357.50" x2="136.95" y2="357.50" stroke="#44fa18" stroke-width="1.6"/>
<rect x="131.05" y="353.00" width="5.0" height="5.0" fill="#44fa18"/>
<rect x="141.30" y="325.10" width="6.6" height="6.6" fill="#44fa18"/>
<rect x="154.70" y="273.20" width="4.4" height="7" fill="#44fa18"/>
<line x1="166.70" y1="246.70" x2="166.70" y2="260.70" stroke="#44fa18" stroke-width="1.6"/>
<line x1="163.30" y1="246.70" x2="170.10" y2="246.70" stroke="#44fa18" stroke-width="1.6"/>
<line x1="163.30" y1="260.70" x2="170.10" y2="260.70" stroke="#44fa18" stroke-width="1.6"/>
<rect x="163.40" y="250.40" width="6.6" height="6.6" fill="#44fa18"/>
<line x1="177.75" y1="242.50" x2="177.75" y2="264.50" stroke="#44fa18" stroke-width="1.6"/>
<line x1="174.35" y1="242.50" x2="181.15" y2="242.50" stroke="#44fa18" stroke-width="1.6"/>
<line x1="174.35" y1="264.50" x2="181.15" y2="264.50" stroke="#44fa18" stroke-width="1.6"/>
<rect x="174.45" y="250.20" width="6.6" height="6.6" fill="#44fa18"/>
<line x1="188.80" y1="255.20" x2="188.80" y2="279.20" stroke="#44fa18" stroke-width="1.6"/>
<line x1="185.40" y1="255.20" x2="192.20" y2="255.20" stroke="#44fa18" stroke-width="1.6"/>
<line x1="185.40" y1="279.20" x2="192.20" y2="279.20" stroke="#44fa18" stroke-width="1.6"/>
<rect x="185.50" y="263.90" width="6.6" height="6.6" fill="#44fa18"/>
<line x1="199.85" y1="269.00" x2="199.85" y2="292.20" stroke="#44fa18" stroke-width="1.6"/>
<line x1="196.45" y1="269.00" x2="203.25" y2="269.00" stroke="#44fa18" stroke-width="1.6"/>
<line x1="196.45" y1="292.20" x2="203.25" y2="292.20" stroke="#44fa18" stroke-width="1.6"/>
<rect x="196.55" y="277.30" width="6.6" height="6.6" fill="#44fa18"/>
<line x1="210.90" y1="282.20" x2="210.90" y2="302.80" stroke="#44fa18" stroke-width="1.6"/>
<line x1="207.50" y1="282.20" x2="214.30" y2="282.20" stroke="#44fa18" stroke-width="1.6"/>
<line x1="207.50" y1="302.80" x2="214.30" y2="302.80" stroke="#44fa18" stroke-width="1.6"/>
<rect x="207.60" y="289.20" width="6.6" height="6.6" fill="#44fa18"/>
<line x1="221.95" y1="292.20" x2="221.95" y2="309.60" stroke="#44fa18" stroke-width="1.6"/>
<line x1="218.55" y1="292.20" x2="225.35" y2="292.20" stroke="#44fa18" stroke-width="1.6"/>
<line x1="218.55" y1="309.60" x2="225.35" y2="309.60" stroke="#44fa18" stroke-width="1.6"/>
<rect x="218.65" y="297.60" width="6.6" height="6.6" fill="#44fa18"/>
<line x1="233.00" y1="300.80" x2="233.00" y2="318.00" stroke="#44fa18" stroke-width="1.6"/>
<line x1="229.60" y1="300.80" x2="236.40" y2="300.80" stroke="#44fa18" stroke-width="1.6"/>
<line x1="229.60" y1="318.00" x2="236.40" y2="318.00" stroke="#44fa18" stroke-width="1.6"/>
<rect x="229.70" y="306.10" width="6.6" height="6.6" fill="#44fa18"/>
<line x1="244.05" y1="306.70" x2="244.05" y2="323.50" stroke="#44fa18" stroke-width="1.6"/>
<line x1="240.65" y1="306.70" x2="247.45" y2="306.70" stroke="#44fa18" stroke-width="1.6"/>
<line x1="240.65" y1="323.50" x2="247.45" y2="323.50" stroke="#44fa18" stroke-width="1.6"/>
<rect x="240.75" y="311.80" width="6.6" height="6.6" fill="#44fa18"/>
<line x1="255.10" y1="311.50" x2="255.10" y2="325.50" stroke="#44fa18" stroke-width="1.6"/>
<line x1="251.70" y1="311.50" x2="258.50" y2="311.50" stroke="#44fa18" stroke-width="1.6"/>
<line x1="251.70" y1="325.50" x2="258.50" y2="325.50" stroke="#44fa18" stroke-width="1.6"/>
<rect x="251.80" y="315.20" width="6.6" height="6.6" fill="#44fa18"/>
<line x1="266.15" y1="319.30" x2="266.15" y2="334.10" stroke="#44fa18" stroke-width="1.6"/>
<line x1="262.75" y1="319.30" x2="269.55" y2="319.30" stroke="#44fa18" stroke-width="1.6"/>
<line x1="262.75" y1="334.10" x2="269.55" y2="334.10" stroke="#44fa18" stroke-width="1.6"/>
<rect x="262.85" y="323.40" width="6.6" height="6.6" fill="#44fa18"/>
<line x1="277.20" y1="324.50" x2="277.20" y2="337.90" stroke="#44fa18" stroke-width="1.6"/>
<line x1="273.80" y1="324.50" x2="280.60" y2="324.50" stroke="#44fa18" stroke-width="1.6"/>
<line x1="273.80" y1="337.90" x2="280.60" y2="337.90" stroke="#44fa18" stroke-width="1.6"/>
<rect x="273.90" y="327.90" width="6.6" height="6.6" fill="#44fa18"/>
<line x1="288.25" y1="326.50" x2="288.25" y2="342.10" stroke="#44fa18" stroke-width="1.6"/>
<line x1="284.85" y1="326.50" x2="291.65" y2="326.50" stroke="#44fa18" stroke-width="1.6"/>
<line x1="284.85" y1="342.10" x2="291.65" y2="342.10" stroke="#44fa18" stroke-width="1.6"/>
<rect x="284.95" y="331.00" width="6.6" height="6.6" fill="#44fa18"/>
<line x1="299.30" y1="331.00" x2="299.30" y2="343.80" stroke="#44fa18" stroke-width="1.6"/>
<line x1="295.90" y1="331.00" x2="302.70" y2="331.00" stroke="#44fa18" stroke-width="1.6"/>
<line x1="295.90" y1="343.80" x2="302.70" y2="343.80" stroke="#44fa18" stroke-width="1.6"/>
<rect x="296.00" y="334.10" width="6.6" height="6.6" fill="#44fa18"/>
<rect x="307.85" y="375.20" width="5.0" height="5.0" fill="#44fa18"/>
<rect x="318.90" y="375.20" width="5.0" height="5.0" fill="#44fa18"/>
<rect x="329.95" y="375.80" width="5.0" height="5.0" fill="#44fa18"/>
<polyline points="78.30,304.40 89.35,305.60 100.40,305.40 111.45,364.60 122.50,365.20 133.55,363.60 144.60,361.40 156.90,359.80 166.70,357.20 177.75,356.20 188.80,356.70 199.85,356.70 210.90,356.70 221.95,356.70 233.00,356.70 244.05,356.70 255.10,356.50 266.15,356.20 277.20,355.80 288.25,355.80 299.30,356.00 310.35,372.20 321.40,371.30 332.45,372.20" fill="none" stroke="#2030ff" stroke-width="2.0"/>
<line x1="78.30" y1="295.40" x2="78.30" y2="313.40" stroke="#2030ff" stroke-width="1.8"/>
<line x1="75.70" y1="295.40" x2="80.90" y2="295.40" stroke="#2030ff" stroke-width="1.8"/>
<line x1="75.70" y1="313.40" x2="80.90" y2="313.40" stroke="#2030ff" stroke-width="1.8"/>
<circle cx="78.30" cy="304.40" r="2.9" fill="#2030ff"/>
<line x1="89.35" y1="297.60" x2="89.35" y2="313.60" stroke="#2030ff" stroke-width="1.8"/>
<line x1="86.75" y1="297.60" x2="91.95" y2="297.60" stroke="#2030ff" stroke-width="1.8"/>
<line x1="86.75" y1="313.60" x2="91.95" y2="313.60" stroke="#2030ff" stroke-width="1.8"/>
<circle cx="89.35" cy="305.60" r="2.9" fill="#2030ff"/>
<line x1="100.40" y1="298.40" x2="100.40" y2="312.40" stroke="#2030ff" stroke-width="1.8"/>
<line x1="97.80" y1="298.40" x2="103.00" y2="298.40" stroke="#2030ff" stroke-width="1.8"/>
<line x1="97.80" y1="312.40" x2="103.00" y2="312.40" stroke="#2030ff" stroke-width="1.8"/>
<circle cx="100.40" cy="305.40" r="2.9" fill="#2030ff"/>
<line x1="111.45" y1="359.30" x2="111.45" y2="369.90" stroke="#2030ff" stroke-width="1.8"/>
<line x1="108.85" y1="359.30" x2="114.05" y2="359.30" stroke="#2030ff" stroke-width="1.8"/>
<line x1="108.85" y1="369.90" x2="114.05" y2="369.90" stroke="#2030ff" stroke-width="1.8"/>
<circle cx="111.45" cy="364.60" r="2.9" fill="#2030ff"/>
<line x1="122.50" y1="359.90" x2="122.50" y2="370.50" stroke="#2030ff" stroke-width="1.8"/>
<line x1="119.90" y1="359.90" x2="125.10" y2="359.90" stroke="#2030ff" stroke-width="1.8"/>
<line x1="119.90" y1="370.50" x2="125.10" y2="370.50" stroke="#2030ff" stroke-width="1.8"/>
<circle cx="122.50" cy="365.20" r="2.9" fill="#2030ff"/>
<line x1="133.55" y1="358.30" x2="133.55" y2="368.90" stroke="#2030ff" stroke-width="1.8"/>
<line x1="130.95" y1="358.30" x2="136.15" y2="358.30" stroke="#2030ff" stroke-width="1.8"/>
<line x1="130.95" y1="368.90" x2="136.15" y2="368.90" stroke="#2030ff" stroke-width="1.8"/>
<circle cx="133.55" cy="363.60" r="2.9" fill="#2030ff"/>
<line x1="144.60" y1="357.40" x2="144.60" y2="365.40" stroke="#2030ff" stroke-width="1.8"/>
<line x1="142.00" y1="357.40" x2="147.20" y2="357.40" stroke="#2030ff" stroke-width="1.8"/>
<line x1="142.00" y1="365.40" x2="147.20" y2="365.40" stroke="#2030ff" stroke-width="1.8"/>
<circle cx="144.60" cy="361.40" r="2.9" fill="#2030ff"/>
<line x1="156.90" y1="355.80" x2="156.90" y2="363.80" stroke="#2030ff" stroke-width="1.8"/>
<line x1="154.30" y1="355.80" x2="159.50" y2="355.80" stroke="#2030ff" stroke-width="1.8"/>
<line x1="154.30" y1="363.80" x2="159.50" y2="363.80" stroke="#2030ff" stroke-width="1.8"/>
<circle cx="156.90" cy="359.80" r="2.9" fill="#2030ff"/>
<line x1="166.70" y1="353.20" x2="166.70" y2="361.20" stroke="#2030ff" stroke-width="1.8"/>
<line x1="164.10" y1="353.20" x2="169.30" y2="353.20" stroke="#2030ff" stroke-width="1.8"/>
<line x1="164.10" y1="361.20" x2="169.30" y2="361.20" stroke="#2030ff" stroke-width="1.8"/>
<circle cx="166.70" cy="357.20" r="2.9" fill="#2030ff"/>
<line x1="177.75" y1="352.20" x2="177.75" y2="360.20" stroke="#2030ff" stroke-width="1.8"/>
<line x1="175.15" y1="352.20" x2="180.35" y2="352.20" stroke="#2030ff" stroke-width="1.8"/>
<line x1="175.15" y1="360.20" x2="180.35" y2="360.20" stroke="#2030ff" stroke-width="1.8"/>
<circle cx="177.75" cy="356.20" r="2.9" fill="#2030ff"/>
<line x1="188.80" y1="352.70" x2="188.80" y2="360.70" stroke="#2030ff" stroke-width="1.8"/>
<line x1="186.20" y1="352.70" x2="191.40" y2="352.70" stroke="#2030ff" stroke-width="1.8"/>
<line x1="186.20" y1="360.70" x2="191.40" y2="360.70" stroke="#2030ff" stroke-width="1.8"/>
<circle cx="188.80" cy="356.70" r="2.9" fill="#2030ff"/>
<line x1="199.85" y1="352.70" x2="199.85" y2="360.70" stroke="#2030ff" stroke-width="1.8"/>
<line x1="197.25" y1="352.70" x2="202.45" y2="352.70" stroke="#2030ff" stroke-width="1.8"/>
<line x1="197.25" y1="360.70" x2="202.45" y2="360.70" stroke="#2030ff" stroke-width="1.8"/>
<circle cx="199.85" cy="356.70" r="2.9" fill="#2030ff"/>
<line x1="210.90" y1="352.70" x2="210.90" y2="360.70" stroke="#2030ff" stroke-width="1.8"/>
<line x1="208.30" y1="352.70" x2="213.50" y2="352.70" stroke="#2030ff" stroke-width="1.8"/>
<line x1="208.30" y1="360.70" x2="213.50" y2="360.70" stroke="#2030ff" stroke-width="1.8"/>
<circle cx="210.90" cy="356.70" r="2.9" fill="#2030ff"/>
<line x1="221.95" y1="352.70" x2="221.95" y2="360.70" stroke="#2030ff" stroke-width="1.8"/>
<line x1="219.35" y1="352.70" x2="224.55" y2="352.70" stroke="#2030ff" stroke-width="1.8"/>
<line x1="219.35" y1="360.70" x2="224.55" y2="360.70" stroke="#2030ff" stroke-width="1.8"/>
<circle cx="221.95" cy="356.70" r="2.9" fill="#2030ff"/>
<line x1="233.00" y1="352.70" x2="233.00" y2="360.70" stroke="#2030ff" stroke-width="1.8"/>
<line x1="230.40" y1="352.70" x2="235.60" y2="352.70" stroke="#2030ff" stroke-width="1.8"/>
<line x1="230.40" y1="360.70" x2="235.60" y2="360.70" stroke="#2030ff" stroke-width="1.8"/>
<circle cx="233.00" cy="356.70" r="2.9" fill="#2030ff"/>
<line x1="244.05" y1="352.70" x2="244.05" y2="360.70" stroke="#2030ff" stroke-width="1.8"/>
<line x1="241.45" y1="352.70" x2="246.65" y2="352.70" stroke="#2030ff" stroke-width="1.8"/>
<line x1="241.45" y1="360.70" x2="246.65" y2="360.70" stroke="#2030ff" stroke-width="1.8"/>
<circle cx="244.05" cy="356.70" r="2.9" fill="#2030ff"/>
<line x1="255.10" y1="352.50" x2="255.10" y2="360.50" stroke="#2030ff" stroke-width="1.8"/>
<line x1="252.50" y1="352.50" x2="257.70" y2="352.50" stroke="#2030ff" stroke-width="1.8"/>
<line x1="252.50" y1="360.50" x2="257.70" y2="360.50" stroke="#2030ff" stroke-width="1.8"/>
<circle cx="255.10" cy="356.50" r="2.9" fill="#2030ff"/>
<line x1="266.15" y1="352.20" x2="266.15" y2="360.20" stroke="#2030ff" stroke-width="1.8"/>
<line x1="263.55" y1="352.20" x2="268.75" y2="352.20" stroke="#2030ff" stroke-width="1.8"/>
<line x1="263.55" y1="360.20" x2="268.75" y2="360.20" stroke="#2030ff" stroke-width="1.8"/>
<circle cx="266.15" cy="356.20" r="2.9" fill="#2030ff"/>
<line x1="277.20" y1="351.80" x2="277.20" y2="359.80" stroke="#2030ff" stroke-width="1.8"/>
<line x1="274.60" y1="351.80" x2="279.80" y2="351.80" stroke="#2030ff" stroke-width="1.8"/>
<line x1="274.60" y1="359.80" x2="279.80" y2="359.80" stroke="#2030ff" stroke-width="1.8"/>
<circle cx="277.20" cy="355.80" r="2.9" fill="#2030ff"/>
<line x1="288.25" y1="351.80" x2="288.25" y2="359.80" stroke="#2030ff" stroke-width="1.8"/>
<line x1="285.65" y1="351.80" x2="290.85" y2="351.80" stroke="#2030ff" stroke-width="1.8"/>
<line x1="285.65" y1="359.80" x2="290.85" y2="359.80" stroke="#2030ff" stroke-width="1.8"/>
<circle cx="288.25" cy="355.80" r="2.9" fill="#2030ff"/>
<line x1="299.30" y1="352.00" x2="299.30" y2="360.00" stroke="#2030ff" stroke-width="1.8"/>
<line x1="296.70" y1="352.00" x2="301.90" y2="352.00" stroke="#2030ff" stroke-width="1.8"/>
<line x1="296.70" y1="360.00" x2="301.90" y2="360.00" stroke="#2030ff" stroke-width="1.8"/>
<circle cx="299.30" cy="356.00" r="2.9" fill="#2030ff"/>
<line x1="310.35" y1="368.40" x2="310.35" y2="376.00" stroke="#2030ff" stroke-width="1.8"/>
<line x1="307.75" y1="368.40" x2="312.95" y2="368.40" stroke="#2030ff" stroke-width="1.8"/>
<line x1="307.75" y1="376.00" x2="312.95" y2="376.00" stroke="#2030ff" stroke-width="1.8"/>
<circle cx="310.35" cy="372.20" r="2.9" fill="#2030ff"/>
<line x1="321.40" y1="367.50" x2="321.40" y2="375.10" stroke="#2030ff" stroke-width="1.8"/>
<line x1="318.80" y1="367.50" x2="324.00" y2="367.50" stroke="#2030ff" stroke-width="1.8"/>
<line x1="318.80" y1="375.10" x2="324.00" y2="375.10" stroke="#2030ff" stroke-width="1.8"/>
<circle cx="321.40" cy="371.30" r="2.9" fill="#2030ff"/>
<line x1="332.45" y1="368.40" x2="332.45" y2="376.00" stroke="#2030ff" stroke-width="1.8"/>
<line x1="329.85" y1="368.40" x2="335.05" y2="368.40" stroke="#2030ff" stroke-width="1.8"/>
<line x1="329.85" y1="376.00" x2="335.05" y2="376.00" stroke="#2030ff" stroke-width="1.8"/>
<circle cx="332.45" cy="372.20" r="2.9" fill="#2030ff"/>
<line x1="111.80" y1="282.00" x2="111.80" y2="338.60" stroke="#000" stroke-width="1.3"/>
<polygon points="111.80,343.60 109.20,337.60 114.40,337.60" fill="#000"/>
<line x1="134.30" y1="240.70" x2="134.30" y2="260.00" stroke="#000" stroke-width="1.3"/>
<line x1="134.30" y1="282.00" x2="134.30" y2="344.00" stroke="#000" stroke-width="1.3"/>
<polygon points="134.30,349.00 131.70,343.00 136.90,343.00" fill="#000"/>
<line x1="314.40" y1="329.00" x2="311.70" y2="356.02" stroke="#000" stroke-width="1.3"/>
<polygon points="311.20,361.00 309.21,354.77 314.38,355.29" fill="#000"/>
<line x1="273.30" y1="207.40" x2="291.30" y2="207.40" stroke="#2030ff" stroke-width="1.6"/>
<circle cx="282.30" cy="207.40" r="2.1" fill="#2030ff"/>
<line x1="273.30" y1="229.40" x2="291.30" y2="229.40" stroke="#44fa18" stroke-width="1.6"/>
<rect x="279.40" y="226.40" width="6.0" height="6.0" fill="#44fa18"/>
<line x1="273.50" y1="249.60" x2="291.30" y2="249.60" stroke="#ff10ee" stroke-width="1.6"/>
<polygon points="277.00,246.00 288.20,246.00 282.60,254.80" fill="none" stroke="#ff10ee" stroke-width="2.4" stroke-linejoin="miter"/>
<line x1="273.50" y1="272.80" x2="291.30" y2="272.80" stroke="#ae7ef2" stroke-width="1.6"/>
<polygon points="282.60,266.00 284.23,270.36 288.88,270.56 285.24,273.46 286.48,277.94 282.60,275.37 278.72,277.94 279.96,273.46 276.32,270.56 280.97,270.36" fill="#ae7ef2"/>
<text x="1.38" y="205.61" font-size="18.51" font-weight="bold" fill="#000" textLength="19.11" lengthAdjust="spacingAndGlyphs">b)</text>
<text x="41.37" y="250.55" font-size="14.65" font-weight="bold" fill="#000" textLength="27.57" lengthAdjust="spacingAndGlyphs">300</text>
<text x="41.2" y="296.95" font-size="14.79" font-weight="bold" fill="#000" textLength="27.74" lengthAdjust="spacingAndGlyphs">200</text>
<text x="40.89" y="342.85" font-size="14.79" font-weight="bold" fill="#000" textLength="28.06" lengthAdjust="spacingAndGlyphs">100</text>
<text x="57.34" y="388.65" font-size="14.79" font-weight="bold" fill="#000" textLength="9.23" lengthAdjust="spacingAndGlyphs">0</text>
<text x="72.34" y="402.95" font-size="15.21" font-weight="bold" fill="#000" textLength="9.23" lengthAdjust="spacingAndGlyphs">0</text>
<text x="131.12" y="402.95" font-size="15.21" font-weight="bold" fill="#000" textLength="17.97" lengthAdjust="spacingAndGlyphs">50</text>
<text x="190.98" y="402.95" font-size="15.21" font-weight="bold" fill="#000" textLength="28.27" lengthAdjust="spacingAndGlyphs">100</text>
<text x="255.49" y="402.95" font-size="15.21" font-weight="bold" fill="#000" textLength="28.16" lengthAdjust="spacingAndGlyphs">150</text>
<text x="319.5" y="402.95" font-size="15.21" font-weight="bold" fill="#000" textLength="27.84" lengthAdjust="spacingAndGlyphs">200</text>
<text x="28.95" y="367.17" font-size="16.91" font-weight="bold" fill="#000" textLength="128.33" lengthAdjust="spacingAndGlyphs" transform="rotate(-90 28.95 367.17)">OCR (pmol/min)</text>
<text x="167.44" y="426.98" font-size="15.32" font-weight="bold" fill="#000" textLength="82.34" lengthAdjust="spacingAndGlyphs">Time (min)</text>
<text x="85.47" y="232.62" font-size="10.85" font-weight="normal" fill="#000" textLength="79.26" lengthAdjust="spacingAndGlyphs" stroke="#000" stroke-width="0.35">Test compound</text>
<text x="84.61" y="275.76" font-size="11.6" font-weight="normal" fill="#000" textLength="58.16" lengthAdjust="spacingAndGlyphs" stroke="#000" stroke-width="0.35">Oligomycin</text>
<text x="294.16" y="212.67" font-size="12.7" font-weight="normal" fill="#000" textLength="41.36" lengthAdjust="spacingAndGlyphs" stroke="#000" stroke-width="0.35">Control</text>
<text x="294.18" y="232.69" font-size="11.27" font-weight="bold" fill="#000" textLength="7.18" lengthAdjust="spacingAndGlyphs" stroke="#000" stroke-width="0.25">6</text>
<text x="294.17" y="254.49" font-size="11.41" font-weight="bold" fill="#000" textLength="30.34" lengthAdjust="spacingAndGlyphs" stroke="#000" stroke-width="0.25">6-Me</text>
<text x="294.49" y="277.48" font-size="11.83" font-weight="bold" fill="#000" textLength="47.83" lengthAdjust="spacingAndGlyphs" stroke="#000" stroke-width="0.25">6-NNMe</text>
<text x="292.79" y="306.2" font-size="10.27" font-weight="normal" fill="#000" textLength="52.36" lengthAdjust="spacingAndGlyphs" stroke="#000" stroke-width="0.35">Rotenone/</text>
<text x="293.7" y="322.28" font-size="11.06" font-weight="normal" fill="#000" textLength="61.15" lengthAdjust="spacingAndGlyphs" stroke="#000" stroke-width="0.35">Antimycin A</text>
<line x1="89.70" y1="456.50" x2="89.70" y2="613.00" stroke="#000" stroke-width="1.8"/>
<line x1="85.00" y1="464.40" x2="89.70" y2="464.40" stroke="#000" stroke-width="1.6"/>
<line x1="85.00" y1="501.30" x2="89.70" y2="501.30" stroke="#000" stroke-width="1.6"/>
<line x1="85.00" y1="538.40" x2="89.70" y2="538.40" stroke="#000" stroke-width="1.6"/>
<line x1="85.00" y1="575.60" x2="89.70" y2="575.60" stroke="#000" stroke-width="1.6"/>
<line x1="89.00" y1="612.90" x2="342.00" y2="612.90" stroke="#000" stroke-width="1.5"/>
<line x1="164.20" y1="612.50" x2="164.20" y2="616.60" stroke="#000" stroke-width="1.6"/>
<line x1="238.30" y1="612.50" x2="238.30" y2="616.60" stroke="#000" stroke-width="1.6"/>
<line x1="311.60" y1="612.50" x2="311.60" y2="616.60" stroke="#000" stroke-width="1.6"/>
<polyline points="90.20,611.30 116.40,611.30 143.30,611.30 169.90,611.30 197.10,611.30 224.10,611.30 251.10,611.30 278.10,611.30 306.00,611.30 335.50,611.30" fill="none" stroke="#ff10ee" stroke-width="1.3"/>
<polygon points="85.20,607.20 95.20,607.20 90.20,614.80" fill="none" stroke="#ff10ee" stroke-width="1.5" stroke-linejoin="miter"/>
<polygon points="111.40,607.20 121.40,607.20 116.40,614.80" fill="none" stroke="#ff10ee" stroke-width="1.5" stroke-linejoin="miter"/>
<polygon points="138.30,607.20 148.30,607.20 143.30,614.80" fill="none" stroke="#ff10ee" stroke-width="1.5" stroke-linejoin="miter"/>
<polygon points="164.90,607.20 174.90,607.20 169.90,614.80" fill="none" stroke="#ff10ee" stroke-width="1.5" stroke-linejoin="miter"/>
<polygon points="192.10,607.20 202.10,607.20 197.10,614.80" fill="none" stroke="#ff10ee" stroke-width="1.5" stroke-linejoin="miter"/>
<polygon points="219.10,607.20 229.10,607.20 224.10,614.80" fill="none" stroke="#ff10ee" stroke-width="1.5" stroke-linejoin="miter"/>
<polygon points="246.10,607.20 256.10,607.20 251.10,614.80" fill="none" stroke="#ff10ee" stroke-width="1.5" stroke-linejoin="miter"/>
<polygon points="273.10,607.20 283.10,607.20 278.10,614.80" fill="none" stroke="#ff10ee" stroke-width="1.5" stroke-linejoin="miter"/>
<polygon points="301.00,607.20 311.00,607.20 306.00,614.80" fill="none" stroke="#ff10ee" stroke-width="1.5" stroke-linejoin="miter"/>
<polygon points="330.50,607.20 340.50,607.20 335.50,614.80" fill="none" stroke="#ff10ee" stroke-width="1.5" stroke-linejoin="miter"/>
<polyline points="90.20,611.50 116.40,611.50 143.30,611.50 169.90,611.50 197.10,611.50 224.10,611.50 251.10,611.50 278.10,611.50 306.00,611.50 335.50,611.50" fill="none" stroke="#ae7ef2" stroke-width="1.5"/>
<polygon points="90.20,604.60 91.88,609.09 96.67,609.30 92.92,612.28 94.20,616.90 90.20,614.26 86.20,616.90 87.48,612.28 83.73,609.30 88.52,609.09" fill="#ae7ef2"/>
<polygon points="116.40,604.60 118.08,609.09 122.87,609.30 119.12,612.28 120.40,616.90 116.40,614.26 112.40,616.90 113.68,612.28 109.93,609.30 114.72,609.09" fill="#ae7ef2"/>
<polygon points="143.30,604.60 144.98,609.09 149.77,609.30 146.02,612.28 147.30,616.90 143.30,614.26 139.30,616.90 140.58,612.28 136.83,609.30 141.62,609.09" fill="#ae7ef2"/>
<polygon points="169.90,604.60 171.58,609.09 176.37,609.30 172.62,612.28 173.90,616.90 169.90,614.26 165.90,616.90 167.18,612.28 163.43,609.30 168.22,609.09" fill="#ae7ef2"/>
<polygon points="197.10,604.60 198.78,609.09 203.57,609.30 199.82,612.28 201.10,616.90 197.10,614.26 193.10,616.90 194.38,612.28 190.63,609.30 195.42,609.09" fill="#ae7ef2"/>
<polygon points="224.10,604.60 225.78,609.09 230.57,609.30 226.82,612.28 228.10,616.90 224.10,614.26 220.10,616.90 221.38,612.28 217.63,609.30 222.42,609.09" fill="#ae7ef2"/>
<polygon points="251.10,604.60 252.78,609.09 257.57,609.30 253.82,612.28 255.10,616.90 251.10,614.26 247.10,616.90 248.38,612.28 244.63,609.30 249.42,609.09" fill="#ae7ef2"/>
<polygon points="278.10,604.60 279.78,609.09 284.57,609.30 280.82,612.28 282.10,616.90 278.10,614.26 274.10,616.90 275.38,612.28 271.63,609.30 276.42,609.09" fill="#ae7ef2"/>
<polygon points="306.00,604.60 307.68,609.09 312.47,609.30 308.72,612.28 310.00,616.90 306.00,614.26 302.00,616.90 303.28,612.28 299.53,609.30 304.32,609.09" fill="#ae7ef2"/>
<polygon points="335.50,604.60 337.18,609.09 341.97,609.30 338.22,612.28 339.50,616.90 335.50,614.26 331.50,616.90 332.78,612.28 329.03,609.30 333.82,609.09" fill="#ae7ef2"/>
<polyline points="90.20,611.30 116.40,611.30 143.30,611.30 169.90,606.90 197.10,588.20 224.10,568.30 251.10,549.80 278.10,528.20 306.00,502.10 335.50,504.40" fill="none" stroke="#44fa18" stroke-width="2.0"/>
<line x1="224.10" y1="559.40" x2="224.10" y2="577.20" stroke="#44fa18" stroke-width="1.6"/>
<line x1="220.20" y1="559.40" x2="228.00" y2="559.40" stroke="#44fa18" stroke-width="1.6"/>
<line x1="220.20" y1="577.20" x2="228.00" y2="577.20" stroke="#44fa18" stroke-width="1.6"/>
<line x1="251.10" y1="535.80" x2="251.10" y2="563.80" stroke="#44fa18" stroke-width="1.6"/>
<line x1="247.20" y1="535.80" x2="255.00" y2="535.80" stroke="#44fa18" stroke-width="1.6"/>
<line x1="247.20" y1="563.80" x2="255.00" y2="563.80" stroke="#44fa18" stroke-width="1.6"/>
<line x1="278.10" y1="507.20" x2="278.10" y2="549.20" stroke="#44fa18" stroke-width="1.6"/>
<line x1="274.20" y1="507.20" x2="282.00" y2="507.20" stroke="#44fa18" stroke-width="1.6"/>
<line x1="274.20" y1="549.20" x2="282.00" y2="549.20" stroke="#44fa18" stroke-width="1.6"/>
<line x1="306.00" y1="473.50" x2="306.00" y2="530.70" stroke="#44fa18" stroke-width="1.6"/>
<line x1="302.10" y1="473.50" x2="309.90" y2="473.50" stroke="#44fa18" stroke-width="1.6"/>
<line x1="302.10" y1="530.70" x2="309.90" y2="530.70" stroke="#44fa18" stroke-width="1.6"/>
<line x1="335.50" y1="479.60" x2="335.50" y2="529.20" stroke="#44fa18" stroke-width="1.6"/>
<line x1="331.60" y1="479.60" x2="339.40" y2="479.60" stroke="#44fa18" stroke-width="1.6"/>
<line x1="331.60" y1="529.20" x2="339.40" y2="529.20" stroke="#44fa18" stroke-width="1.6"/>
<line x1="335.50" y1="504.40" x2="340.50" y2="504.60" stroke="#44fa18" stroke-width="2.0"/>
<rect x="87.00" y="608.10" width="6.4" height="6.4" fill="#44fa18"/>
<rect x="113.20" y="608.10" width="6.4" height="6.4" fill="#44fa18"/>
<rect x="140.10" y="608.10" width="6.4" height="6.4" fill="#44fa18"/>
<rect x="166.70" y="603.70" width="6.4" height="6.4" fill="#44fa18"/>
<rect x="193.90" y="585.00" width="6.4" height="6.4" fill="#44fa18"/>
<rect x="220.90" y="565.10" width="6.4" height="6.4" fill="#44fa18"/>
<rect x="247.90" y="546.60" width="6.4" height="6.4" fill="#44fa18"/>
<rect x="274.90" y="525.00" width="6.4" height="6.4" fill="#44fa18"/>
<rect x="302.80" y="498.90" width="6.4" height="6.4" fill="#44fa18"/>
<rect x="332.30" y="501.20" width="6.4" height="6.4" fill="#44fa18"/>
<polyline points="90.20,611.30 116.40,611.30 143.30,611.30 169.90,611.30 197.10,611.30 224.10,611.30 251.10,611.30 278.10,611.30 306.00,611.30 335.50,611.30 342.00,611.30" fill="none" stroke="#2030ff" stroke-width="2.0"/>
<circle cx="90.20" cy="611.30" r="2.7" fill="#2030ff"/>
<circle cx="116.40" cy="611.30" r="2.7" fill="#2030ff"/>
<circle cx="143.30" cy="611.30" r="2.7" fill="#2030ff"/>
<circle cx="169.90" cy="611.30" r="2.7" fill="#2030ff"/>
<circle cx="197.10" cy="611.30" r="2.7" fill="#2030ff"/>
<circle cx="224.10" cy="611.30" r="2.7" fill="#2030ff"/>
<circle cx="251.10" cy="611.30" r="2.7" fill="#2030ff"/>
<circle cx="278.10" cy="611.30" r="2.7" fill="#2030ff"/>
<circle cx="306.00" cy="611.30" r="2.7" fill="#2030ff"/>
<circle cx="335.50" cy="611.30" r="2.7" fill="#2030ff"/>
<line x1="141.20" y1="572.70" x2="154.40" y2="599.71" stroke="#000" stroke-width="1.3"/>
<polygon points="156.60,604.20 151.63,599.95 156.30,597.67" fill="#000"/>
<line x1="175.70" y1="458.40" x2="193.80" y2="458.40" stroke="#2030ff" stroke-width="1.6"/>
<circle cx="184.70" cy="458.40" r="2.1" fill="#2030ff"/>
<line x1="175.70" y1="479.20" x2="193.80" y2="479.20" stroke="#44fa18" stroke-width="1.6"/>
<rect x="181.45" y="476.05" width="6.3" height="6.3" fill="#44fa18"/>
<line x1="175.70" y1="499.80" x2="193.80" y2="499.80" stroke="#ff10ee" stroke-width="1.6"/>
<polygon points="179.50,496.40 190.10,496.40 184.80,504.00" fill="none" stroke="#ff10ee" stroke-width="2.3" stroke-linejoin="miter"/>
<line x1="175.70" y1="519.90" x2="193.80" y2="519.90" stroke="#ae7ef2" stroke-width="1.6"/>
<polygon points="184.70,513.40 186.38,517.89 191.17,518.10 187.42,521.08 188.70,525.70 184.70,523.06 180.70,525.70 181.98,521.08 178.23,518.10 183.02,517.89" fill="#ae7ef2"/>
<text x="2.1" y="458.85" font-size="17.87" font-weight="bold" fill="#000" textLength="15.56" lengthAdjust="spacingAndGlyphs">c)</text>
<text x="50.0" y="467.16" font-size="13.94" font-weight="bold" fill="#000" textLength="27.74" lengthAdjust="spacingAndGlyphs">100</text>
<text x="60.34" y="507.16" font-size="14.43" font-weight="bold" fill="#000" textLength="18.4" lengthAdjust="spacingAndGlyphs">75</text>
<text x="60.71" y="540.66" font-size="13.94" font-weight="bold" fill="#000" textLength="18.29" lengthAdjust="spacingAndGlyphs">50</text>
<text x="60.71" y="581.26" font-size="13.8" font-weight="bold" fill="#000" textLength="18.12" lengthAdjust="spacingAndGlyphs">25</text>
<text x="39.84" y="631.86" font-size="15.68" font-weight="bold" fill="#000" textLength="179.64" lengthAdjust="spacingAndGlyphs" transform="rotate(-90 39.84 631.86)">Normalised conductance</text>
<text x="85.21" y="636.25" font-size="14.65" font-weight="bold" fill="#000" textLength="9.59" lengthAdjust="spacingAndGlyphs">0</text>
<text x="149.7" y="636.35" font-size="14.51" font-weight="bold" fill="#000" textLength="27.53" lengthAdjust="spacingAndGlyphs">200</text>
<text x="222.87" y="636.35" font-size="14.65" font-weight="bold" fill="#000" textLength="27.26" lengthAdjust="spacingAndGlyphs">400</text>
<text x="299.36" y="636.45" font-size="14.65" font-weight="bold" fill="#000" textLength="26.76" lengthAdjust="spacingAndGlyphs">600</text>
<text x="183.14" y="656.5" font-size="13.83" font-weight="bold" fill="#000" textLength="60.79" lengthAdjust="spacingAndGlyphs">Time (s)</text>
<text x="99.13" y="565.77" font-size="12.98" font-weight="normal" fill="#000" textLength="91.2" lengthAdjust="spacingAndGlyphs">Test compound</text>
<text x="203.0" y="462.49" font-size="10.81" font-weight="normal" fill="#000" textLength="38.87" lengthAdjust="spacingAndGlyphs">Control</text>
<text x="203.07" y="482.89" font-size="10.99" font-weight="bold" fill="#000" textLength="7.42" lengthAdjust="spacingAndGlyphs">6</text>
<text x="203.08" y="503.79" font-size="10.85" font-weight="bold" fill="#000" textLength="29.41" lengthAdjust="spacingAndGlyphs">6-Me</text>
<text x="203.1" y="524.19" font-size="10.56" font-weight="bold" fill="#000" textLength="46.92" lengthAdjust="spacingAndGlyphs">6-NNMe</text></svg>
</body></html>
